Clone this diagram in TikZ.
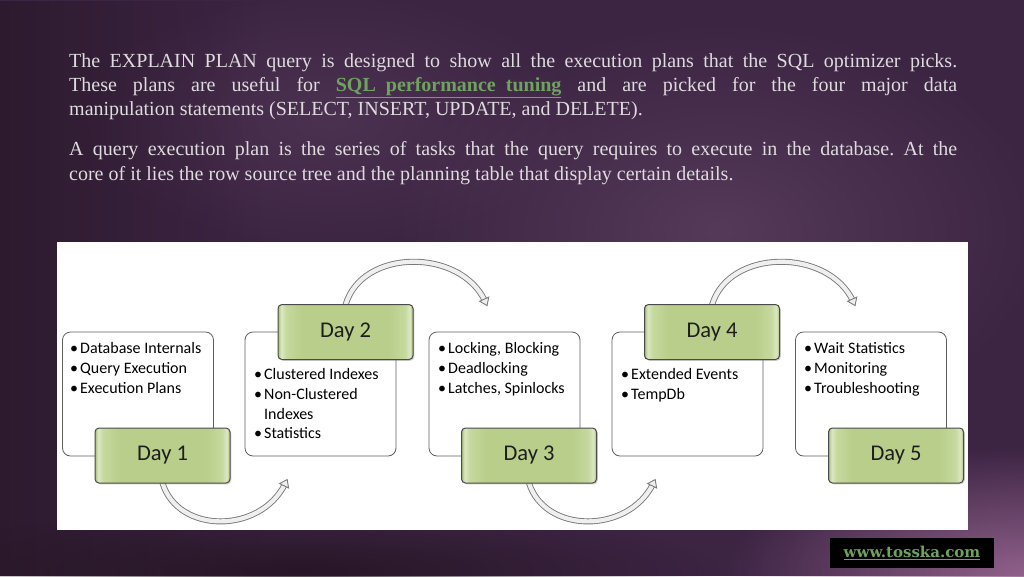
\documentclass[tikz,border=0pt]{standalone}
\usepackage{fontspec}
\setmainfont{Liberation Serif}
\newfontfamily\bodyfont{Liberation Serif}
\newfontfamily\dfont{Carlito}
\newfontfamily\wwwfont{DejaVu Serif}
\usetikzlibrary{shadows,fadings}
\definecolor{bgbase}{HTML}{3C2443}
\definecolor{bglight}{HTML}{6A4C6C}
\definecolor{bgdark}{HTML}{22131F}
\definecolor{bgpink}{HTML}{9A6893}
\definecolor{txt}{HTML}{DEDADE}
\definecolor{linkgreen}{HTML}{6FA25F}
\definecolor{boxline}{HTML}{5E5E5E}
\definecolor{greenline}{HTML}{4A4A4A}
\definecolor{arrowfill}{HTML}{EFEFEF}
\definecolor{arrowline}{HTML}{7A7A7A}
\definecolor{daytext}{HTML}{1E1E1E}
\definecolor{gEdge}{HTML}{A8BF78}
\definecolor{gLight}{HTML}{DCE8C4}
\definecolor{gSoft}{HTML}{C6D99E}
\definecolor{gMid}{HTML}{B8CE8A}
\pgfdeclarehorizontalshading{daygreen}{100bp}{%
  color(0bp)=(gEdge); color(25bp)=(gEdge);
  color(26.2bp)=(gLight); color(28bp)=(gSoft);
  color(34bp)=(gMid); color(66bp)=(gMid);
  color(72bp)=(gSoft); color(73.8bp)=(gLight);
  color(75bp)=(gEdge); color(100bp)=(gEdge)}
\tikzfading[name=fadeleft, left color=transparent!0, right color=transparent!100]
\tikzfading[name=radfade, inner color=transparent!0, outer color=transparent!100]
\frenchspacing
\newcommand{\bul}{\makebox[10pt][l]{•}}
\begin{document}
\begin{tikzpicture}[x=1pt,y=-1pt,
  bodytext/.style={anchor=base west, inner sep=0pt, text=txt, font=\bodyfont\fontsize{20}{24}\selectfont},
  cbox/.style={draw=boxline, line width=0.8pt, fill=white, rounded corners=8pt, minimum width=151pt, minimum height=124pt, inner sep=0pt},
  dbox/.style={draw=greenline, line width=1pt, rounded corners=4pt, shading=daygreen, minimum width=135pt, minimum height=55pt, inner sep=0pt, text=daytext, font=\dfont\fontsize{22.5}{24}\selectfont, drop shadow={shadow xshift=1.3pt, shadow yshift=-1.3pt, opacity=0.35}},
  list/.style={anchor=base west, inner sep=0pt, font=\dfont\fontsize{16}{20}\selectfont},
  flow/.style={draw=arrowline, line width=0.9pt, double=arrowfill, double distance=4.2pt},
  head/.style={fill=arrowfill, draw=arrowline, line width=0.9pt, line join=miter},
  tag/.style={inner sep=0pt}
]
\useasboundingbox (0,0) rectangle (1024,576);
% background
\fill[bgbase] (0,0) rectangle (1024,576);
\fill[bglight, opacity=0.55, path fading=radfade] (720,230) ellipse (330pt and 210pt);
\fill[bglight, opacity=0.35, path fading=radfade] (330,120) ellipse (260pt and 130pt);
\fill[bgdark, opacity=0.55, path fading=fadeleft] (0,0) rectangle (260,576);
\fill[bgdark, opacity=0.8, path fading=radfade] (300,570) ellipse (420pt and 60pt);
\fill[bgpink, opacity=0.9, path fading=radfade] (1024,576) ellipse (300pt and 130pt);

% text
\node[bodytext] (p1a) at (69,67) {\makebox[888pt][s]{The EXPLAIN PLAN query is designed to show all the execution plans that the SQL optimizer picks.}};
\node[bodytext] (p1b) at (69,91) {\makebox[888pt][s]{These plans are useful for \textcolor{linkgreen}{\bfseries\underline{SQL\ \ performance\ \ tuning}} and are picked for the four major data}};
\node[bodytext] (p1c) at (69,115) {manipulation statements (SELECT, INSERT, UPDATE, and DELETE).};
\node[bodytext] (p2a) at (69,155) {\makebox[888pt][s]{A query execution plan is the series of tasks that the query requires to execute in the database. At the}};
\node[bodytext] (p2b) at (69,180) {core of it lies the row source tree and the planning table that display certain details.};

% panel
\fill[white] (57,242) rectangle (968,530);

% content boxes
\node[cbox] (b1) at (138,394) {};
\node[cbox] (b2) at (320.5,394) {};
\node[cbox] (b3) at (504.5,394) {};
\node[cbox] (b4) at (687.5,394) {};
\node[cbox] (b5) at (871,394) {};

\node[list] (t1) at (70,353) {\begin{tabular}[t]{@{}l@{}}\bul Database Internals\\ \bul Query Execution\\ \bul Execution Plans\end{tabular}};
\node[list] (t2) at (254,379) {\begin{tabular}[t]{@{}l@{}}\bul Clustered Indexes\\ \bul Non-Clustered\\ \makebox[10pt]{}Indexes\\[-1pt] \bul Statistics\end{tabular}};
\node[list] (t3) at (438,353) {\begin{tabular}[t]{@{}l@{}}\bul Locking, Blocking\\ \bul Deadlocking\\ \bul Latches, Spinlocks\end{tabular}};
\node[list] (t4) at (621,379) {\begin{tabular}[t]{@{}l@{}}\bul Extended Events\\ \bul TempDb\end{tabular}};
\node[list] (t5) at (804,353) {\begin{tabular}[t]{@{}l@{}}\bul Wait Statistics\\ \bul Monitoring\\ \bul Troubleshooting\end{tabular}};

% day box centres and arrow ends
\coordinate (c1) at (162.5,455.5);
\coordinate (c2) at (345.5,332);
\coordinate (c3) at (529,455.5);
\coordinate (c4) at (712,332);
\coordinate (c5) at (896,455.5);
\coordinate (e1) at (285,484);
\coordinate (e2) at (485,301);
\coordinate (e3) at (653,484);
\coordinate (e4) at (853,301);

% arrows
\draw[flow] (162.5,483) .. controls (178,534) and (260,534) .. (e1);
\draw[flow] (345.5,305) .. controls (362,248) and (460,248) .. (e2);
\draw[flow] (529,483) .. controls (545,534) and (628,534) .. (e3);
\draw[flow] (712,305) .. controls (729,248) and (828,248) .. (e4);
\draw[head, shift={(e1)}, rotate=64] (-2,-5) -- (5,0) -- (-2,5) -- cycle;
\draw[head, shift={(e2)}, rotate=-65.5] (-2,-5) -- (5,0) -- (-2,5) -- cycle;
\draw[head, shift={(e3)}, rotate=64] (-2,-5) -- (5,0) -- (-2,5) -- cycle;
\draw[head, shift={(e4)}, rotate=-65.5] (-2,-5) -- (5,0) -- (-2,5) -- cycle;

% day boxes
\node[dbox] (d1) at (c1) {Day 1};
\node[dbox] (d2) at (c2) {Day 2};
\node[dbox] (d3) at (c3) {Day 3};
\node[dbox] (d4) at (c4) {Day 4};
\node[dbox] (d5) at (c5) {Day 5};

% footer link
\fill[black] (830,538) rectangle (994,568);
\node[tag, text=linkgreen, font=\wwwfont\bfseries\fontsize{15}{18}\selectfont] (www) at (912,553) {\underline{www.tosska.com}};
\end{tikzpicture}
\end{document}
